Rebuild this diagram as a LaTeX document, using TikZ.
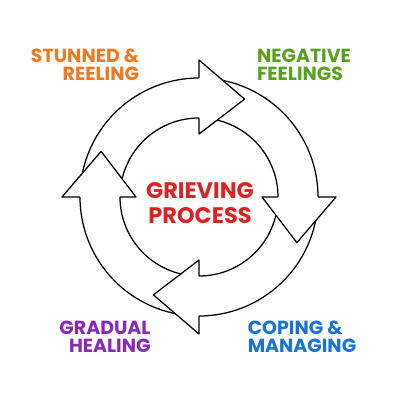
\documentclass[tikz,border=0pt]{standalone}
\usepackage{fontspec}
\setmainfont{Poppins}
\usetikzlibrary{positioning}

\definecolor{stunorange}{RGB}{240,120,30}
\definecolor{neggreen}{RGB}{90,160,30}
\definecolor{healpurple}{RGB}{135,40,185}
\definecolor{copeblue}{RGB}{25,115,215}
\definecolor{griefred}{RGB}{220,35,35}

\tikzset{
  ring/.style={draw=black, line width=0.9pt, line join=round},
  headfill/.style={fill=white},
  stagelabel/.style={font=\bfseries\fontsize{13.5}{13}\selectfont, inner sep=0pt},
}

\begin{document}
\begin{tikzpicture}[x=0.25mm,y=0.25mm]
	\useasboundingbox (-199,-203) rectangle (201,197);

	% bodies of the four arrows
	\draw[ring] (170:119) arc[start angle=170, end angle=90, radius=119];
	\draw[ring] (170:79) arc[start angle=170, end angle=90, radius=79];

	\draw[ring] (80:119) arc[start angle=80, end angle=0, radius=119];
	\draw[ring] (80:79) arc[start angle=80, end angle=0, radius=79];

	\draw[ring] (-10:119) arc[start angle=-10, end angle=-90, radius=119];
	\draw[ring] (-10:79) arc[start angle=-10, end angle=-90, radius=79];

	\draw[ring] (-100:119) arc[start angle=-100, end angle=-180, radius=119];
	\draw[ring] (-100:79) arc[start angle=-100, end angle=-180, radius=79];

	% heads
	\fill[headfill] (90:63) -- (65:108) -- (90:137) -- cycle;
	\draw[ring] (90:119) -- (90:137) -- (65:108) -- (90:63) -- (90:79);

	\fill[headfill] (0:63) -- (-25:108) -- (0:137) -- cycle;
	\draw[ring] (0:119) -- (0:137) -- (-25:108) -- (0:63) -- (0:79);

	\fill[headfill] (-90:63) -- (-115:108) -- (-90:137) -- cycle;
	\draw[ring] (-90:119) -- (-90:137) -- (-115:108) -- (-90:63) -- (-90:79);

	\fill[headfill] (180:63) -- (155:108) -- (180:137) -- cycle;
	\draw[ring] (180:119) -- (180:137) -- (155:108) -- (180:63) -- (180:79);

	\node[stagelabel, text=stunorange, align=right] (stunned) at (-114,132) {STUNNED \&\\REELING};
	\node[stagelabel, text=neggreen, align=left] (negative) at (105,132) {NEGATIVE\\FEELINGS};
	\node[stagelabel, text=healpurple, align=right] (gradual) at (-94,-140) {GRADUAL\\HEALING};
	\node[stagelabel, text=copeblue, align=left] (coping) at (103,-140) {COPING \&\\MANAGING};

	\node[font=\bfseries\fontsize{16}{18}\selectfont, text=griefred, align=center, inner sep=0pt] (grieving) at (1,-6) {GRIEVING\\PROCESS};

\end{tikzpicture}
\end{document}
